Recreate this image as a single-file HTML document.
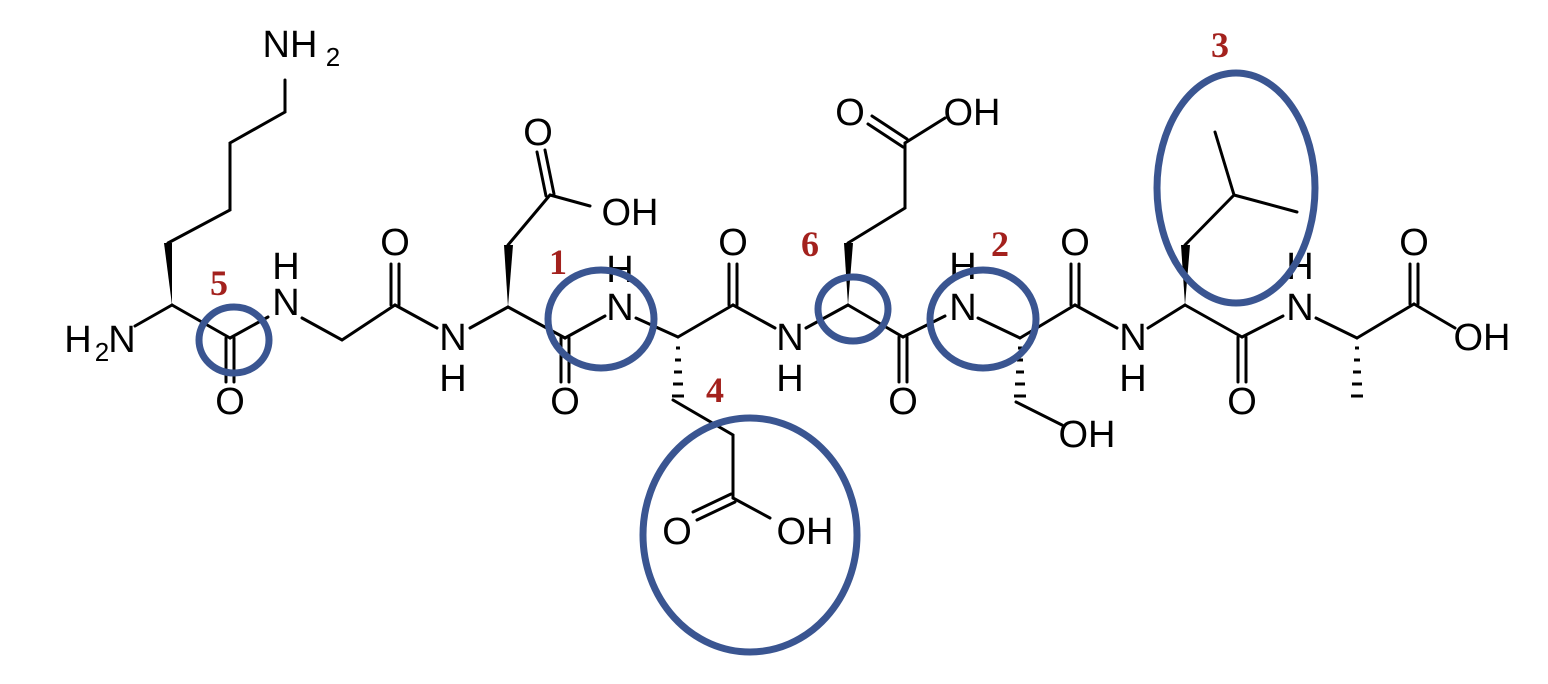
<!DOCTYPE html>
<html><head><meta charset="utf-8"><style>
html,body{margin:0;padding:0;background:#fff;}
svg{display:block;}
.t{font-family:"Liberation Sans",sans-serif;font-size:38px;fill:#000;text-anchor:middle;dominant-baseline:central;}
.s{font-size:26px;}
.r{font-family:"Liberation Serif",serif;font-weight:bold;font-size:36px;fill:#a3211d;text-anchor:middle;dominant-baseline:central;}
</style></head><body>
<svg width="1548" height="684" viewBox="0 0 1548 684" xmlns="http://www.w3.org/2000/svg">
<g stroke="#000" stroke-width="3" fill="none" stroke-linecap="round">
<!-- Lys -->
<line x1="135" y1="326" x2="172" y2="305"/>
<polyline points="168,243 230,210 230,143 285,112 285,80"/>
<line x1="172" y1="305" x2="230" y2="338"/>
<line x1="226" y1="338" x2="226" y2="382"/><line x1="234" y1="338" x2="234" y2="382"/>
<line x1="230" y1="338" x2="268" y2="317"/>
<!-- Gly -->
<polyline points="302,318 342,340 395,305"/>
<line x1="391" y1="305" x2="391" y2="264"/><line x1="399" y1="305" x2="399" y2="264"/>
<line x1="395" y1="305" x2="437" y2="328"/>
<!-- Asp -->
<line x1="470" y1="328" x2="508" y2="307"/>
<line x1="508" y1="245" x2="550" y2="195"/>
<line x1="550" y1="195" x2="590" y2="206"/>
<line x1="546" y1="196" x2="537" y2="152"/><line x1="554" y1="194" x2="545" y2="150"/>
<line x1="508" y1="307" x2="565" y2="338"/>
<line x1="561" y1="338" x2="561" y2="382"/><line x1="569" y1="338" x2="569" y2="382"/>
<line x1="565" y1="338" x2="605" y2="316"/>
<!-- Asp2 -->
<line x1="636" y1="318" x2="678" y2="337"/>
<polyline points="673,400 733,435 733,498"/>
<line x1="731" y1="494" x2="693" y2="512"/><line x1="735" y1="502" x2="697" y2="520"/>
<line x1="733" y1="498" x2="770" y2="518"/>
<line x1="678" y1="337" x2="733" y2="305"/>
<line x1="729" y1="305" x2="729" y2="264"/><line x1="737" y1="305" x2="737" y2="264"/>
<line x1="733" y1="305" x2="775" y2="328"/>
<!-- Glu -->
<line x1="806" y1="328" x2="848" y2="305"/>
<polyline points="848,243 905,208 905,143 945,118"/>
<line x1="903" y1="147" x2="868" y2="124"/><line x1="907" y1="139" x2="872" y2="116"/>
<line x1="848" y1="305" x2="903" y2="337"/>
<line x1="899" y1="337" x2="899" y2="382"/><line x1="907" y1="337" x2="907" y2="382"/>
<line x1="903" y1="337" x2="945" y2="316"/>
<!-- Ser -->
<line x1="978" y1="318" x2="1020" y2="338"/>
<line x1="1016" y1="402" x2="1062" y2="425"/>
<line x1="1020" y1="338" x2="1075" y2="305"/>
<line x1="1071" y1="305" x2="1071" y2="264"/><line x1="1079" y1="305" x2="1079" y2="264"/>
<line x1="1075" y1="305" x2="1117" y2="328"/>
<!-- Leu -->
<line x1="1148" y1="328" x2="1185" y2="305"/>
<polyline points="1185,245 1234,195 1215,132"/>
<line x1="1234" y1="195" x2="1297" y2="212"/>
<line x1="1185" y1="305" x2="1242" y2="337"/>
<line x1="1238" y1="337" x2="1238" y2="382"/><line x1="1246" y1="337" x2="1246" y2="382"/>
<line x1="1242" y1="337" x2="1283" y2="316"/>
<!-- Ala -->
<line x1="1316" y1="318" x2="1357" y2="338"/>
<line x1="1357" y1="338" x2="1414" y2="304"/>
<line x1="1410" y1="304" x2="1410" y2="264"/><line x1="1418" y1="304" x2="1418" y2="264"/>
<line x1="1414" y1="304" x2="1455" y2="328"/>
</g>
<!-- wedges -->
<g fill="#000">
<polygon points="172,305 164,243 172,243"/>
<polygon points="508,307 504,245 513,245"/>
<polygon points="848,305 844,243 853,243"/>
<polygon points="1185,305 1181,245 1190,245"/>
</g>
<!-- hashes -->
<g stroke="#000" stroke-width="3">
<line x1="676" y1="348" x2="680" y2="348"/><line x1="675" y1="360" x2="681" y2="360"/><line x1="674" y1="372" x2="682" y2="372"/><line x1="673" y1="384" x2="683" y2="384"/><line x1="672" y1="396" x2="684" y2="396"/>
<line x1="1018" y1="348" x2="1022" y2="348"/><line x1="1017" y1="360" x2="1023" y2="360"/><line x1="1016" y1="372" x2="1024" y2="372"/><line x1="1015" y1="384" x2="1025" y2="384"/><line x1="1014" y1="396" x2="1026" y2="396"/>
<line x1="1355" y1="348" x2="1359" y2="348"/><line x1="1354" y1="360" x2="1360" y2="360"/><line x1="1353" y1="372" x2="1361" y2="372"/><line x1="1352" y1="384" x2="1362" y2="384"/><line x1="1351" y1="396" x2="1363" y2="396"/>
</g>
<!-- atom labels -->
<text class="t" x="78" y="340">H</text><text class="t s" x="102" y="352">2</text><text class="t" x="122" y="340">N</text>
<text class="t" x="290" y="45">NH</text><text class="t s" x="333" y="57">2</text>
<text class="t" x="230" y="402">O</text>
<text class="t" x="286" y="303">N</text><text class="t" x="286" y="267">H</text>
<text class="t" x="395" y="243">O</text>
<text class="t" x="453" y="338">N</text><text class="t" x="453" y="379">H</text>
<text class="t" x="538" y="133">O</text><text class="t" x="630" y="213">OH</text>
<text class="t" x="565" y="402">O</text>
<text class="t" x="620" y="308">N</text><text class="t" x="620" y="270">H</text>
<text class="t" x="677" y="532">O</text><text class="t" x="805" y="532">OH</text>
<text class="t" x="733" y="243">O</text>
<text class="t" x="790" y="338">N</text><text class="t" x="790" y="379">H</text>
<text class="t" x="850" y="113">O</text><text class="t" x="972" y="113">OH</text>
<text class="t" x="903" y="402">O</text>
<text class="t" x="963" y="308">N</text><text class="t" x="963" y="267">H</text>
<text class="t" x="1087" y="435">OH</text>
<text class="t" x="1075" y="243">O</text>
<text class="t" x="1133" y="338">N</text><text class="t" x="1133" y="379">H</text>
<text class="t" x="1242" y="402">O</text>
<text class="t" x="1300" y="308">N</text><text class="t" x="1300" y="267">H</text>
<text class="t" x="1414" y="243">O</text>
<text class="t" x="1482" y="338">OH</text>
<!-- circles -->
<g fill="none" stroke="#3a5591" stroke-width="7">
<ellipse cx="234" cy="340" rx="35" ry="33"/>
<ellipse cx="601" cy="319" rx="53" ry="49"/>
<ellipse cx="853" cy="309" rx="35" ry="32"/>
<ellipse cx="983" cy="319" rx="53" ry="49"/>
<ellipse cx="1236" cy="188" rx="79" ry="115"/>
<ellipse cx="750" cy="535" rx="107" ry="117"/>
</g>
<text class="r" x="219" y="283">5</text>
<text class="r" x="558" y="262">1</text>
<text class="r" x="810" y="244">6</text>
<text class="r" x="1000" y="244">2</text>
<text class="r" x="1220" y="45">3</text>
<text class="r" x="715" y="390">4</text>
</svg>
</body></html>
